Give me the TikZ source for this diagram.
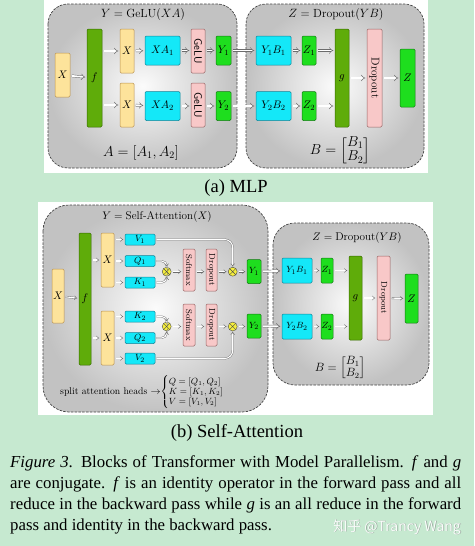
\documentclass[tikz,border=0pt]{standalone}
\usepackage{amsmath}
\usepackage{fontspec}
\newfontfamily\timesf{Liberation Serif}
\newfontfamily\cjkf{Noto Sans CJK SC}
\usetikzlibrary{arrows.meta}
\definecolor{bggreen}{RGB}{198,233,208}
\definecolor{xyel}{RGB}{253,227,155}
\definecolor{xyelD}{RGB}{185,145,80}
\definecolor{fgreen}{RGB}{95,172,10}
\definecolor{fgreenD}{RGB}{55,105,0}
\definecolor{cyanb}{RGB}{20,232,248}
\definecolor{cyanD}{RGB}{20,130,150}
\definecolor{pinkb}{RGB}{248,200,200}
\definecolor{pinkD}{RGB}{150,100,100}
\definecolor{ygreen}{RGB}{30,222,30}
\definecolor{ygreenD}{RGB}{20,120,20}
\definecolor{otyel}{RGB}{245,238,60}
\definecolor{wmgray}{RGB}{150,165,155}
\begin{document}
\begin{tikzpicture}[x=1pt,y=-1pt,
 bx/.style={draw, rounded corners=1.2pt, inner sep=0pt, line width=0.5pt, font=\fontsize{11.3}{11.3}\selectfont},
 sm/.style={font=\fontsize{9.3}{9.3}\selectfont},
 rt/.style={font=\fontsize{8.5}{8.5}\selectfont},
 xb/.style={bx, fill=xyel, draw=xyelD},
 fb/.style={bx, fill=fgreen, draw=fgreenD},
 cb/.style={bx, fill=cyanb, draw=cyanD},
 pb/.style={bx, fill=pinkb, draw=pinkD},
 gb/.style={bx, fill=ygreen, draw=ygreenD},
 ar/.style={draw=gray!85!black, line width=0.45pt, double=white, double distance=1.7pt, -{Implies}, shorten <=1.5pt, shorten >=1.5pt},
 ars/.style={ar, double distance=1.1pt, line width=0.4pt},
 arc/.style={ars, rounded corners=5pt, shorten <=1pt, shorten >=0.5pt},
 grp/.style={draw=gray!55!black, dash pattern=on 2.5pt off 1.3pt, line width=0.7pt, inner color=white!97!gray, outer color=gray!48},
 ot/.style={circle, draw=gray!60!black, fill=otyel, inner sep=0pt, minimum size=9pt, line width=0.4pt,
   path picture={\draw[line width=0.4pt, gray!60!black] (path picture bounding box.north west)--(path picture bounding box.south east) (path picture bounding box.north east)--(path picture bounding box.south west);}},
 lbl/.style={inner sep=0pt, font=\fontsize{11.8}{11.8}\selectfont},
 lbls/.style={inner sep=0pt, font=\fontsize{11.2}{11.2}\selectfont},
 captxt/.style={inner sep=0pt, font=\timesf\fontsize{18.5}{18.5}\selectfont},
]
\useasboundingbox (0,0) rectangle (474,546);
\fill[bggreen] (0,0) rectangle (474,546);
\fill[white] (44,0) rectangle (428,173);
\fill[white] (38,202) rectangle (433,415);

% ---------- panel (a) ----------
\draw[grp, rounded corners=20pt] (48,4) rectangle (237,168);
\draw[grp, rounded corners=20pt] (246,4) rectangle (424,168);
\node[lbl] (ta) at (143,14) {$Y=\mathrm{GeLU}(XA)$};
\node[lbl] (tb) at (336,14) {$Z=\mathrm{Dropout}(YB)$};
\node[lbl, font=\fontsize{14}{14}\selectfont] (ma) at (141,153) {$A=[A_1,A_2]$};
\node[lbl, font=\fontsize{14}{14}\selectfont] (mb) at (340,151) {$B=\begin{bmatrix}B_1\\ B_2\end{bmatrix}$};

\node[xb, minimum width=15, minimum height=44] (aX) at (62.5,75) {$X$};
\node[fb, minimum width=15, minimum height=98] (af) at (94.5,78) {$f$};
\node[xb, minimum width=14, minimum height=44] (aX1) at (127,51) {$X$};
\node[xb, minimum width=14, minimum height=44] (aX2) at (127,105) {$X$};
\node[cb, minimum width=35, minimum height=29] (aXA1) at (162.5,50.5) {$XA_1$};
\node[cb, minimum width=35, minimum height=29] (aXA2) at (162.5,106) {$XA_2$};
\node[pb, minimum width=14, minimum height=44] (aG1) at (198,51) {\rotatebox{-90}{\sffamily\fontsize{10.8}{10.8}\selectfont GeLU}};
\node[pb, minimum width=14, minimum height=44] (aG2) at (198,105) {\rotatebox{-90}{\sffamily\fontsize{10.8}{10.8}\selectfont GeLU}};
\node[gb, minimum width=15, minimum height=29] (aY1) at (223.5,50.5) {$Y_1$};
\node[gb, minimum width=15, minimum height=29] (aY2) at (223.5,106) {$Y_2$};
\node[cb, minimum width=35, minimum height=29] (aYB1) at (273.5,50.5) {$Y_1B_1$};
\node[cb, minimum width=35, minimum height=29] (aYB2) at (273.5,106) {$Y_2B_2$};
\node[gb, minimum width=14, minimum height=29] (aZ1) at (309,50.5) {$Z_1$};
\node[gb, minimum width=14, minimum height=29] (aZ2) at (309,106) {$Z_2$};
\node[fb, minimum width=14, minimum height=98] (ag) at (342,78) {$g$};
\node[pb, minimum width=15, minimum height=98] (aD) at (374.5,78) {\rotatebox{-90}{Dropout}};
\node[gb, minimum width=15, minimum height=58] (aZ) at (407.5,78) {$Z$};

\draw[ar] (aX) -- (af);
\draw[ar] (af.east |- aX1) -- (aX1);
\draw[ar] (af.east |- aX2) -- (aX2);
\draw[ar] (aX1) -- (aXA1);
\draw[ar] (aX2) -- (aXA2);
\draw[ar] (aXA1) -- (aG1.west |- aXA1);
\draw[ar] (aXA2) -- (aG2.west |- aXA2);
\draw[ar] (aG1.east |- aY1) -- (aY1);
\draw[ar] (aG2.east |- aY2) -- (aY2);
\draw[ar] (aY1) -- (aYB1);
\draw[ar] (aY2) -- (aYB2);
\draw[ar] (aYB1) -- (aZ1);
\draw[ar] (aYB2) -- (aZ2);
\draw[ar] (aZ1) -- (ag.west |- aZ1);
\draw[ar] (aZ2) -- (ag.west |- aZ2);
\draw[ar] (ag) -- (aD);
\draw[ar] (aD) -- (aZ);

\node[captxt] (capa) at (236,188) {(a) MLP};

% ---------- panel (b) ----------
\draw[grp, rounded corners=26pt] (43,205) rectangle (268,412);
\draw[grp, rounded corners=22pt] (273,223) rectangle (429,385);
\node[lbls] (tc) at (157,217) {$Y=\mathrm{Self\text{-}Attention}(X)$};
\node[lbls] (td) at (357,238) {$Z=\mathrm{Dropout}(YB)$};
\node[lbls, font=\fontsize{11.8}{11.8}\selectfont] (mbb) at (340,368) {$B=\begin{bmatrix}B_1\\ B_2\end{bmatrix}$};
\node[inner sep=0pt, font=\fontsize{9.7}{9.7}\selectfont, anchor=west] (split) at (60,392)
  {split attention heads $\rightarrow$\fontsize{8.8}{10}\selectfont$\left\{\begin{array}{@{}l@{}}Q=[Q_1,Q_2]\\ K=[K_1,K_2]\\ V=[V_1,V_2]\end{array}\right.$};

\node[xb, minimum width=12, minimum height=54] (bX) at (58,296) {$X$};
\node[fb, minimum width=12, minimum height=132] (bf) at (85,299) {$f$};
\node[xb, minimum width=13, minimum height=54] (bX1) at (107.5,260) {$X$};
\node[xb, minimum width=13, minimum height=54] (bX2) at (107.5,338) {$X$};
\node[cb, sm, minimum width=30, minimum height=11] (V1) at (140,239.5) {$V_1$};
\node[cb, sm, minimum width=30, minimum height=11] (Q1) at (140,261) {$Q_1$};
\node[cb, sm, minimum width=30, minimum height=11] (K1) at (140,282.5) {$K_1$};
\node[cb, sm, minimum width=30, minimum height=11] (K2) at (140,316.5) {$K_2$};
\node[cb, sm, minimum width=30, minimum height=11] (Q2) at (140,338) {$Q_2$};
\node[cb, sm, minimum width=30, minimum height=11] (V2) at (140,358.5) {$V_2$};
\node[ot] (o1) at (166.7,271.7) {};
\node[ot] (o2) at (232.7,271.7) {};
\node[ot] (o3) at (166.7,326.5) {};
\node[ot] (o4) at (232.7,326.5) {};
\node[pb, rt, minimum width=12, minimum height=42] (S1) at (189,270) {\rotatebox{-90}{Softmax}};
\node[pb, rt, minimum width=12, minimum height=42] (S2) at (189,325) {\rotatebox{-90}{Softmax}};
\node[pb, rt, minimum width=11, minimum height=42] (D1) at (211.5,270) {\rotatebox{-90}{Dropout}};
\node[pb, rt, minimum width=11, minimum height=42] (D2) at (211.5,325) {\rotatebox{-90}{Dropout}};
\node[gb, sm, minimum width=14, minimum height=24] (bY1) at (254,271.5) {$Y_1$};
\node[gb, sm, minimum width=14, minimum height=24] (bY2) at (254,326) {$Y_2$};
\node[cb, sm, minimum width=30, minimum height=25] (bYB1) at (297,270.5) {$Y_1B_1$};
\node[cb, sm, minimum width=30, minimum height=25] (bYB2) at (297,326.5) {$Y_2B_2$};
\node[gb, sm, minimum width=12, minimum height=25] (bZ1) at (327,270.5) {$Z_1$};
\node[gb, sm, minimum width=12, minimum height=25] (bZ2) at (327,326.5) {$Z_2$};
\node[fb, minimum width=13, minimum height=84] (bg) at (355.5,298) {$g$};
\node[pb, rt, minimum width=13, minimum height=84] (bD) at (383.5,298) {\rotatebox{-90}{Dropout}};
\node[gb, minimum width=13, minimum height=49] (bZ) at (411.5,298.5) {$Z$};

\draw[ars] (bX) -- (bf);
\draw[ars] (bf.east |- bX1) -- (bX1);
\draw[ars] (bf.east |- bX2) -- (bX2);
\foreach \n in {V1,Q1,K1}{\draw[ars] (bX1.east |- \n) -- (\n);}
\foreach \n in {K2,Q2,V2}{\draw[ars] (bX2.east |- \n) -- (\n);}
\draw[arc] (Q1) -| (o1);
\draw[arc] (K1) -| (o1);
\draw[arc] (K2) -| (o3);
\draw[arc] (Q2) -| (o3);
\draw[arc, rounded corners=8pt] (V1) -| (o2);
\draw[arc, rounded corners=8pt] (V2) -| (o4);
\draw[ars] (o1) -- (S1.west |- o1);
\draw[ars] (o3) -- (S2.west |- o3);
\draw[ars] (S1.east |- o1) -- (D1.west |- o1);
\draw[ars] (S2.east |- o3) -- (D2.west |- o3);
\draw[ars] (D1.east |- o2) -- (o2);
\draw[ars] (D2.east |- o4) -- (o4);
\draw[ars] (o2) -- (bY1.west |- o2);
\draw[ars] (o4) -- (bY2.west |- o4);
\draw[ar] (bY1) -- (bYB1);
\draw[ar] (bY2) -- (bYB2);
\draw[ars] (bYB1) -- (bZ1);
\draw[ars] (bYB2) -- (bZ2);
\draw[ars] (bZ1) -- (bg.west |- bZ1);
\draw[ars] (bZ2) -- (bg.west |- bZ2);
\draw[ars] (bg) -- (bD);
\draw[ars] (bD) -- (bZ);

\node[captxt] (capb) at (237,433) {(b) Self-Attention};

% ---------- caption ----------
\node[inner sep=0pt, anchor=north west, font=\timesf\fontsize{16.8}{21}\selectfont, align=left] (fig) at (10,455) {%
\makebox[451pt][s]{\textit{Figure 3}. Blocks of Transformer with Model Parallelism. \textit{f} and \textit{g}}\\
\makebox[451pt][s]{are conjugate. \textit{f} is an identity operator in the forward pass and all}\\
\makebox[451pt][s]{reduce in the backward pass while \textit{g} is an all reduce in the forward}\\
pass and identity in the backward pass.};
\node[inner sep=0pt, anchor=east, text=wmgray, font=\fontsize{14}{14}\selectfont] (wm0) at (461.6,527.6) {\cjkf 知乎 @Trancy Wang};
\node[inner sep=0pt, anchor=east, text=white!92!bggreen, font=\fontsize{14}{14}\selectfont] (wm) at (461,527) {\cjkf 知乎 @Trancy Wang};
\end{tikzpicture}
\end{document}
